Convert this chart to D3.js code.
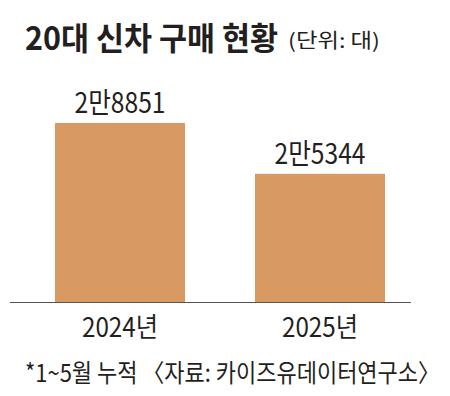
<!DOCTYPE html>
<html>
<head>
<meta charset="utf-8">
<script src="https://cdn.jsdelivr.net/npm/d3@7"></script>
<style>
  body { margin: 0; background: #fff; }
  text { font-family: "Noto Sans CJK KR", "Noto Sans", sans-serif; fill: #231f20; }
</style>
</head>
<body>
<svg id="chart" width="450" height="396"></svg>
<script>
// 데이터
const years = ["2024년", "2025년"];
const cars = [28851, 25344];
const valueLabels = ["2만8851", "2만5344"];

const svg = d3.select("#chart"),
    width = +svg.attr("width"),
    height = +svg.attr("height");

const baseY = 302;

// x 위치
const x = d3.scaleBand()
    .domain(years)
    .range([20, 420])
    .paddingInner(0.35)
    .paddingOuter(0.175);

// y축은 0부터 시작하지 않음 (원본 그래프 비율)
const y = d3.scaleLinear()
    .domain([16500, 28851])
    .range([baseY, 123]);

// 제목
svg.append("text")
    .attr("x", 25).attr("y", 50)
    .attr("font-size", 32).attr("font-weight", 700)
    .attr("textLength", 253).attr("lengthAdjust", "spacingAndGlyphs")
    .text("20대 신차 구매 현황");

svg.append("text")
    .attr("x", 288).attr("y", 48)
    .attr("font-size", 20)
    .attr("textLength", 92).attr("lengthAdjust", "spacingAndGlyphs")
    .text("(단위: 대)");

// 막대
svg.append("g")
    .selectAll("rect")
    .data(cars)
    .enter().append("rect")
    .attr("x", function(d, i) { return x(years[i]); })
    .attr("y", function(d) { return y(d); })
    .attr("width", x.bandwidth())
    .attr("height", function(d) { return baseY - y(d); })
    .attr("fill", "#d89a62");

// 값 라벨
svg.append("g")
    .selectAll("text")
    .data(cars)
    .enter().append("text")
    .attr("x", function(d, i) { return x(years[i]) + x.bandwidth() / 2; })
    .attr("y", function(d) { return y(d) - 10; })
    .attr("text-anchor", "middle")
    .attr("font-size", 28)
    .attr("textLength", 91).attr("lengthAdjust", "spacingAndGlyphs")
    .text(function(d, i) { return valueLabels[i]; });

// 기준선
svg.append("line")
    .attr("x1", 10).attr("x2", 411)
    .attr("y1", baseY + 0.5).attr("y2", baseY + 0.5)
    .attr("stroke", "#555").attr("stroke-width", 1);

// x축 라벨
const xAxis = svg.append("g")
    .attr("transform", "translate(0," + baseY + ")")
    .call(d3.axisBottom(x).tickSize(0).tickPadding(0));
xAxis.select(".domain").remove();
xAxis.selectAll("text")
    .attr("y", 35)
    .attr("dy", null)
    .attr("font-size", 27)
    .attr("font-family", null)
    .attr("fill", null)
    .attr("textLength", 76).attr("lengthAdjust", "spacingAndGlyphs");

// 주석
svg.append("text")
    .attr("transform", "translate(25,382) scale(1,1.18)")
    .attr("font-size", 21)
    .attr("textLength", 415).attr("lengthAdjust", "spacingAndGlyphs")
    .text("*1~5월 누적 〈자료: 카이즈유데이터연구소〉");
</script>
</body>
</html>
